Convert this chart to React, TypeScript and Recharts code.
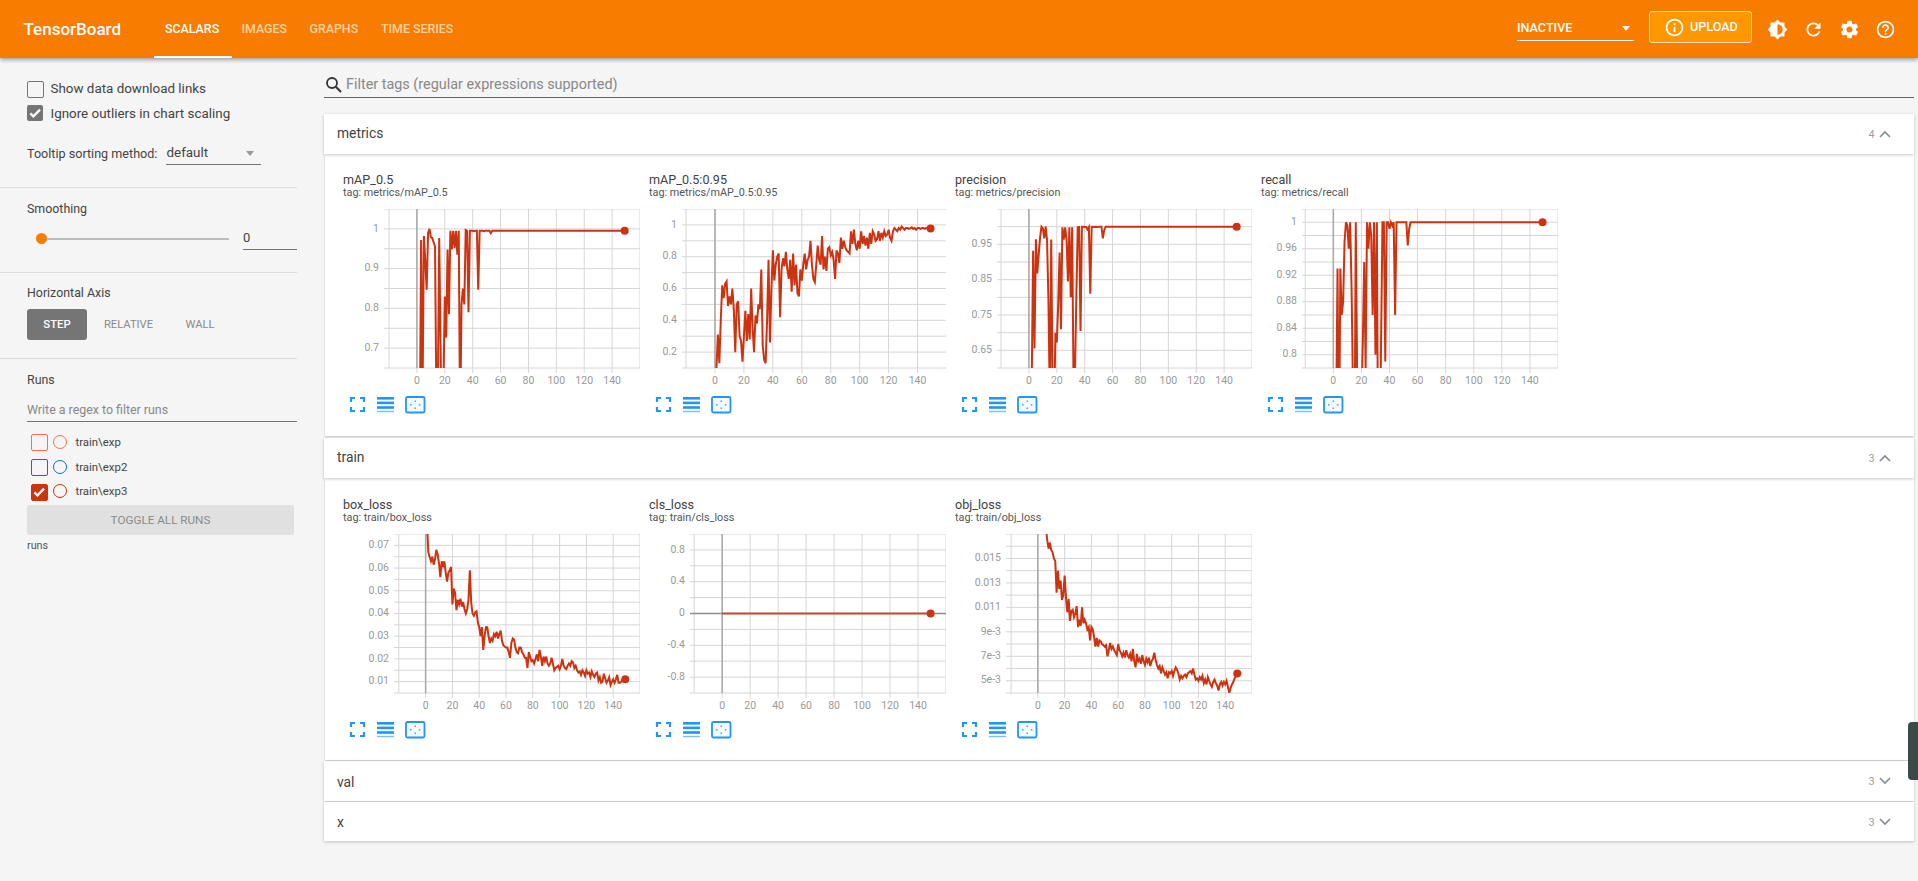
import React from "react";
import { LineChart, Line, XAxis, YAxis, CartesianGrid, ReferenceLine } from "recharts";

// ---------- data (values per step, 0..149, ten per line) ----------
const mAP50 = [
  0.12, 0.3, 0.45, 0.972, 0.55, 0.982, 0.92, 0.847, 0.989, 1.0,
  0.979, 0.977, 0.966, 0.956, 0.55, 0.6, 0.977, 0.7, 0.4, 0.6,
  0.83, 0.727, 0.948, 0.785, 0.995, 0.948, 0.995, 0.952, 0.995, 0.935,
  0.995, 0.5, 0.81, 0.85, 0.81, 0.997, 0.995, 0.79, 0.995, 0.995,
  0.995, 0.994, 0.995, 0.995, 0.847, 0.995, 0.995, 0.995, 0.994, 0.995,
  0.995, 0.995, 0.995, 0.989, 0.995, 0.995, 0.995, 0.995, 0.995, 0.995,
  0.995, 0.995, 0.995, 0.995, 0.995, 0.995, 0.995, 0.995, 0.995, 0.995,
  0.995, 0.995, 0.995, 0.995, 0.995, 0.995, 0.995, 0.995, 0.995, 0.995,
  0.995, 0.995, 0.995, 0.995, 0.995, 0.995, 0.995, 0.995, 0.995, 0.995,
  0.995, 0.995, 0.995, 0.995, 0.995, 0.995, 0.995, 0.995, 0.995, 0.995,
  0.995, 0.995, 0.995, 0.995, 0.995, 0.995, 0.995, 0.995, 0.995, 0.995,
  0.995, 0.995, 0.995, 0.995, 0.995, 0.995, 0.995, 0.995, 0.995, 0.995,
  0.995, 0.995, 0.995, 0.995, 0.995, 0.995, 0.995, 0.995, 0.995, 0.995,
  0.995, 0.995, 0.995, 0.995, 0.995, 0.995, 0.995, 0.995, 0.995, 0.995,
  0.995, 0.995, 0.995, 0.995, 0.995, 0.995, 0.995, 0.995, 0.995, 0.995,
];
const mAP5095 = [
  0.08, 0.1, 0.31, 0.13, 0.4, 0.62, 0.54, 0.63, 0.645, 0.49,
  0.55, 0.5, 0.6, 0.47, 0.2, 0.5, 0.52, 0.3, 0.27, 0.14,
  0.3, 0.46, 0.27, 0.44, 0.28, 0.6, 0.35, 0.2, 0.43, 0.38,
  0.5, 0.47, 0.72, 0.24, 0.15, 0.13, 0.4, 0.78, 0.26, 0.6,
  0.84, 0.65, 0.75, 0.8, 0.82, 0.42, 0.72, 0.79, 0.74, 0.83,
  0.72, 0.66, 0.78, 0.58, 0.82, 0.62, 0.75, 0.57, 0.55, 0.72,
  0.65, 0.75, 0.82, 0.72, 0.78, 0.8, 0.9, 0.75, 0.66, 0.64,
  0.75, 0.87, 0.78, 0.75, 0.93, 0.72, 0.8, 0.71, 0.85, 0.86,
  0.81, 0.83, 0.78, 0.66, 0.84, 0.82, 0.76, 0.92, 0.85, 0.9,
  0.86, 0.84, 0.83, 0.82, 0.96, 0.88, 0.97, 0.88, 0.84, 0.9,
  0.85, 0.96, 0.88, 0.93, 0.87, 0.92, 0.85, 0.95, 0.88, 0.96,
  0.94, 0.9, 0.91, 0.96, 0.9, 0.95, 0.92, 0.96, 0.93, 0.94,
  0.97, 0.92, 0.9, 0.96, 0.98, 0.97, 0.96, 0.98, 0.97, 0.99,
  0.98, 0.97, 0.98, 0.98, 0.975, 0.98, 0.985, 0.975, 0.98, 0.97,
  0.98, 0.98, 0.975, 0.98, 0.98, 0.975, 0.98, 0.98, 0.98, 0.978,
];
const precision = [
  0.3, 0.45, 0.55, 0.932, 0.655, 0.964, 0.868, 0.92, 0.97, 1.0,
  0.995, 0.967, 1.0, 0.962, 0.79, 0.5, 0.964, 0.55, 0.45, 0.7,
  0.672, 0.78, 0.927, 0.71, 0.998, 0.963, 0.998, 0.963, 0.845, 0.998,
  0.8, 0.998, 0.55, 0.58, 0.8, 0.998, 0.999, 0.705, 1.0, 1.0,
  0.999, 0.999, 0.992, 0.999, 0.81, 1.0, 1.0, 0.999, 1.0, 0.999,
  1.0, 1.0, 1.0, 0.967, 0.99, 1.0, 1.0, 1.0, 1.0, 1.0,
  1.0, 1.0, 1.0, 1.0, 1.0, 1.0, 1.0, 1.0, 1.0, 1.0,
  1.0, 1.0, 1.0, 1.0, 1.0, 1.0, 1.0, 1.0, 1.0, 1.0,
  1.0, 1.0, 1.0, 1.0, 1.0, 1.0, 1.0, 1.0, 1.0, 1.0,
  1.0, 1.0, 1.0, 1.0, 1.0, 1.0, 1.0, 1.0, 1.0, 1.0,
  1.0, 1.0, 1.0, 1.0, 1.0, 1.0, 1.0, 1.0, 1.0, 1.0,
  1.0, 1.0, 1.0, 1.0, 1.0, 1.0, 1.0, 1.0, 1.0, 1.0,
  1.0, 1.0, 1.0, 1.0, 1.0, 1.0, 1.0, 1.0, 1.0, 1.0,
  1.0, 1.0, 1.0, 1.0, 1.0, 1.0, 1.0, 1.0, 1.0, 1.0,
  1.0, 1.0, 1.0, 1.0, 1.0, 1.0, 1.0, 1.0, 1.0, 1.0,
];
const recall = [
  0.4, 0.6, 0.7, 0.93, 0.62, 0.93, 0.86, 0.88, 0.97, 1.0,
  0.995, 0.96, 1.0, 0.9, 0.75, 0.6, 1.0, 0.76, 0.6, 0.5,
  0.72, 0.82, 0.94, 0.78, 1.0, 0.96, 1.0, 0.98, 0.86, 1.0,
  0.8, 1.0, 0.6, 0.62, 0.82, 1.0, 1.0, 0.79, 1.0, 1.0,
  0.99, 1.0, 0.995, 1.0, 0.86, 1.0, 1.0, 1.0, 1.0, 1.0,
  1.0, 1.0, 1.0, 0.965, 0.99, 1.0, 1.0, 1.0, 1.0, 1.0,
  1.0, 1.0, 1.0, 1.0, 1.0, 1.0, 1.0, 1.0, 1.0, 1.0,
  1.0, 1.0, 1.0, 1.0, 1.0, 1.0, 1.0, 1.0, 1.0, 1.0,
  1.0, 1.0, 1.0, 1.0, 1.0, 1.0, 1.0, 1.0, 1.0, 1.0,
  1.0, 1.0, 1.0, 1.0, 1.0, 1.0, 1.0, 1.0, 1.0, 1.0,
  1.0, 1.0, 1.0, 1.0, 1.0, 1.0, 1.0, 1.0, 1.0, 1.0,
  1.0, 1.0, 1.0, 1.0, 1.0, 1.0, 1.0, 1.0, 1.0, 1.0,
  1.0, 1.0, 1.0, 1.0, 1.0, 1.0, 1.0, 1.0, 1.0, 1.0,
  1.0, 1.0, 1.0, 1.0, 1.0, 1.0, 1.0, 1.0, 1.0, 1.0,
  1.0, 1.0, 1.0, 1.0, 1.0, 1.0, 1.0, 1.0, 1.0, 1.0,
];
const boxLoss = [
  0.095, 0.08, 0.067, 0.065, 0.063, 0.065, 0.0615, 0.064, 0.068, 0.066,
  0.062, 0.056, 0.063, 0.061, 0.063, 0.058, 0.054, 0.058, 0.059, 0.0605,
  0.044, 0.051, 0.049, 0.0415, 0.046, 0.044, 0.0465, 0.043, 0.045, 0.042,
  0.04, 0.042, 0.046, 0.059, 0.045, 0.04, 0.039, 0.0405, 0.041, 0.036,
  0.034, 0.03, 0.034, 0.024, 0.03, 0.034, 0.034, 0.03, 0.027, 0.029,
  0.028, 0.031, 0.03, 0.032, 0.029, 0.031, 0.0325, 0.028, 0.026, 0.0255,
  0.025, 0.025, 0.023, 0.0205, 0.027, 0.029, 0.0285, 0.025, 0.023, 0.0225,
  0.025, 0.025, 0.023, 0.022, 0.0205, 0.0205, 0.016, 0.023, 0.021, 0.019,
  0.0195, 0.018, 0.02, 0.022, 0.019, 0.024, 0.021, 0.017, 0.021, 0.019,
  0.021, 0.018, 0.017, 0.018, 0.0205, 0.018, 0.015, 0.016, 0.0165, 0.017,
  0.0155, 0.017, 0.02, 0.017, 0.016, 0.0155, 0.017, 0.018, 0.017, 0.019,
  0.0185, 0.016, 0.017, 0.015, 0.014, 0.0145, 0.013, 0.015, 0.014, 0.0125,
  0.015, 0.0135, 0.014, 0.012, 0.0145, 0.013, 0.012, 0.0135, 0.014, 0.0105,
  0.012, 0.0095, 0.01, 0.0135, 0.0115, 0.0095, 0.0105, 0.012, 0.0085, 0.01,
  0.011, 0.0095, 0.011, 0.013, 0.0095, 0.0095, 0.01, 0.011, 0.011, 0.011,
];
const clsLoss = [
  0, 0, 0, 0, 0, 0, 0, 0, 0, 0, 0, 0, 0, 0, 0, 0, 0, 0, 0, 0,
  0, 0, 0, 0, 0, 0, 0, 0, 0, 0, 0, 0, 0, 0, 0, 0, 0, 0, 0, 0,
  0, 0, 0, 0, 0, 0, 0, 0, 0, 0, 0, 0, 0, 0, 0, 0, 0, 0, 0, 0,
  0, 0, 0, 0, 0, 0, 0, 0, 0, 0, 0, 0, 0, 0, 0, 0, 0, 0, 0, 0,
  0, 0, 0, 0, 0, 0, 0, 0, 0, 0, 0, 0, 0, 0, 0, 0, 0, 0, 0, 0,
  0, 0, 0, 0, 0, 0, 0, 0, 0, 0, 0, 0, 0, 0, 0, 0, 0, 0, 0, 0,
  0, 0, 0, 0, 0, 0, 0, 0, 0, 0, 0, 0, 0, 0, 0, 0, 0, 0, 0, 0,
  0, 0, 0, 0, 0, 0, 0, 0, 0, 0,
];
const objLoss = [
  0.04, 0.03, 0.025, 0.021, 0.019, 0.018, 0.0175, 0.0165, 0.0158, 0.0163,
  0.0157, 0.0155, 0.015, 0.0148, 0.0122, 0.014, 0.0125, 0.0132, 0.0116, 0.012,
  0.0136, 0.0118, 0.0106, 0.0117, 0.0099, 0.0107, 0.0108, 0.0102, 0.0105, 0.0111,
  0.0094, 0.01, 0.0095, 0.011, 0.0097, 0.01, 0.0097, 0.0092, 0.0094, 0.0083,
  0.0094, 0.0092, 0.0086, 0.0078, 0.0085, 0.0078, 0.0083, 0.0082, 0.008, 0.0079,
  0.0078, 0.0079, 0.007, 0.0075, 0.0081, 0.0076, 0.0078, 0.0075, 0.0073, 0.0071,
  0.008, 0.0075, 0.0073, 0.007, 0.0073, 0.0069, 0.0075, 0.0071, 0.0069, 0.0072,
  0.0066, 0.0076, 0.0066, 0.0061, 0.0072, 0.0066, 0.0068, 0.0064, 0.0071, 0.0066,
  0.0063, 0.0068, 0.0065, 0.0069, 0.0062, 0.0066, 0.0068, 0.0073, 0.0067, 0.0063,
  0.006, 0.0062, 0.0056, 0.0061, 0.0058, 0.0055, 0.0057, 0.0052, 0.0057, 0.0056,
  0.0058, 0.0054, 0.0058, 0.0061, 0.0059, 0.0056, 0.0051, 0.0054, 0.0052, 0.0054,
  0.0055, 0.0053, 0.0056, 0.0057, 0.0058, 0.0056, 0.006, 0.0055, 0.0051, 0.0052,
  0.005, 0.0053, 0.0051, 0.0054, 0.0048, 0.0051, 0.0047, 0.0053, 0.005, 0.0047,
  0.0045, 0.0049, 0.0051, 0.0048, 0.0046, 0.0042, 0.0047, 0.0049, 0.0046, 0.0049,
  0.0047, 0.005, 0.0045, 0.004, 0.0044, 0.0047, 0.0049, 0.0052, 0.0054, 0.0056,
];

const xTicks = [0, 20, 40, 60, 80, 100, 120, 140];
const xGrid = [-20, 0, 20, 40, 60, 80, 100, 120, 140, 160];

const ticks1 = [0.7, 0.8, 0.9, 1];
const grid1 = [0.65, 0.7, 0.75, 0.8, 0.85, 0.9, 0.95, 1, 1.05];
const ticks2 = [0.2, 0.4, 0.6, 0.8, 1];
const grid2 = [0.1, 0.2, 0.3, 0.4, 0.5, 0.6, 0.7, 0.8, 0.9, 1, 1.1];
const ticks3 = [0.65, 0.75, 0.85, 0.95];
const grid3 = [0.6, 0.65, 0.7, 0.75, 0.8, 0.85, 0.9, 0.95, 1, 1.05];
const ticks4 = [0.8, 0.84, 0.88, 0.92, 0.96, 1];
const grid4 = [0.78, 0.8, 0.82, 0.84, 0.86, 0.88, 0.9, 0.92, 0.94, 0.96, 0.98, 1, 1.02];
const ticksBox = [0.01, 0.02, 0.03, 0.04, 0.05, 0.06, 0.07];
const gridBox = [0.005, 0.01, 0.015, 0.02, 0.025, 0.03, 0.035, 0.04, 0.045, 0.05, 0.055, 0.06, 0.065, 0.07, 0.075];
const ticksCls = [-0.8, -0.4, 0, 0.4, 0.8];
const gridCls = [-1, -0.8, -0.6, -0.4, -0.2, 0, 0.2, 0.4, 0.6, 0.8, 1];
const ticksObj = [0.005, 0.007, 0.009, 0.011, 0.013, 0.015];
const gridObj = [0.004, 0.005, 0.006, 0.007, 0.008, 0.009, 0.01, 0.011, 0.012, 0.013, 0.014, 0.015, 0.016, 0.017];

const fmtObj = (v: number) => (v < 0.01 ? `${Math.round(v * 1000)}e-3` : String(v));

const RED = "#cc3311";
const FONT = "Roboto, sans-serif";

type Def = {
  title: string; tag: string; values: number[]; ticks: number[]; grid: number[];
  yDomain: [number, number]; xMin: number; left: number; right: number; top: number; tx: number; fmt?: (v: number) => string;
};

const ROW1 = 209;
const ROW2 = 534;
const PH = 159;

const defs: Def[] = [
  { title: "mAP_0.5", tag: "tag: metrics/mAP_0.5", values: mAP50, ticks: ticks1, grid: grid1, yDomain: [0.65, 1.05], xMin: -23.6, left: 384, right: 640, top: ROW1, tx: 343 },
  { title: "mAP_0.5:0.95", tag: "tag: metrics/mAP_0.5:0.95", values: mAP5095, ticks: ticks2, grid: grid2, yDomain: [0.1, 1.1], xMin: -22.8, left: 681.5, right: 946, top: ROW1, tx: 649 },
  { title: "precision", tag: "tag: metrics/precision", values: precision, ticks: ticks3, grid: grid3, yDomain: [0.6, 1.05], xMin: -22.9, left: 997, right: 1252, top: ROW1, tx: 955 },
  { title: "recall", tag: "tag: metrics/recall", values: recall, ticks: ticks4, grid: grid4, yDomain: [0.78, 1.02], xMin: -22.3, left: 1302, right: 1558, top: ROW1, tx: 1261 },
  { title: "box_loss", tag: "tag: train/box_loss", values: boxLoss, ticks: ticksBox, grid: gridBox, yDomain: [0.005, 0.075], xMin: -23.6, left: 394, right: 640, top: ROW2, tx: 343 },
  { title: "cls_loss", tag: "tag: train/cls_loss", values: clsLoss, ticks: ticksCls, grid: gridCls, yDomain: [-1, 1], xMin: -23, left: 690, right: 946, top: ROW2, tx: 649 },
  { title: "obj_loss", tag: "tag: train/obj_loss", values: objLoss, ticks: ticksObj, grid: gridObj, yDomain: [0.004, 0.017], xMin: -23.8, left: 1006, right: 1252, top: ROW2, tx: 955, fmt: fmtObj },
];

const Txt = ({ x, y, size = 13, color = "#424242", weight = 400, anchor = "left", children }: any) => (
  <div
    style={{
      position: "absolute", left: x, top: y - 12, height: 24, lineHeight: "24px", fontSize: size,
      color, fontWeight: weight, whiteSpace: "nowrap", fontFamily: FONT,
      transform: anchor === "center" ? "translateX(-50%)" : undefined,
    }}
  >
    {children}
  </div>
);

const Box = ({ x, y, w, h, style }: any) => (
  <div style={{ position: "absolute", left: x, top: y, width: w, height: h, ...style }} />
);

const MIcon = ({ cx, cy, size = 20, d, fill = "#fff" }: any) => (
  <svg style={{ position: "absolute", left: cx - size / 2, top: cy - size / 2 }} width={size} height={size} viewBox="0 0 24 24">
    <path d={d} fill={fill} />
  </svg>
);

const Check = ({ x, y, size }: any) => (
  <svg style={{ position: "absolute", left: x, top: y }} width={size} height={size} viewBox="0 0 24 24">
    <path d="M5 12.5l4.6 4.6L19.5 7" fill="none" stroke="#fff" strokeWidth="3.4" />
  </svg>
);

const ChartIcons = ({ tx, y }: any) => {
  const blue = "#2196f3";
  return (
    <svg style={{ position: "absolute", left: tx + 6, top: y - 1 }} width={80} height={18} viewBox="0 0 80 18">
      <path d="M2 6V2h4M11 2h4v4M15 11v4h-4M6 15H2v-4" fill="none" stroke={blue} strokeWidth="2.2" />
      <rect x="28" y="1" width="17" height="2.6" fill={blue} />
      <rect x="28" y="5.6" width="17" height="2.6" fill={blue} />
      <rect x="28" y="10.2" width="17" height="2.6" fill={blue} />
      <rect x="28" y="14.8" width="17" height="1.4" fill={blue} opacity="0.6" />
      <rect x="57" y="1" width="18.5" height="15.5" rx="1.5" fill="#f4faff" stroke={blue} strokeWidth="1.8" />
      <path d="M66.2 4.5v1.6M66.2 11.4v1.6M61 8.8h1.6M69.8 8.8h1.6" stroke={blue} strokeWidth="1.2" />
    </svg>
  );
};

const Scalar = ({ def }: { def: Def }) => {
  const yAxisW = 50;
  const w = def.right - def.left + yAxisW;
  const data = def.values.map((value, step) => ({ step, value }));
  const last = data.length - 1;
  const isCls = def.title === "cls_loss";
  return (
    <>
      <Txt x={def.tx} y={def.top - 29.5} size={12.6} color="#424242">{def.title}</Txt>
      <Txt x={def.tx} y={def.top - 16} size={10.8} color="#555">{def.tag}</Txt>
      <div style={{ position: "absolute", left: def.left - yAxisW, top: def.top }}>
        <LineChart width={w} height={PH + 24} data={data} margin={{ top: 0, right: 0, bottom: 0, left: 0 }}>
          <CartesianGrid stroke="#d6d6d6" strokeWidth={1} horizontalValues={def.grid} verticalValues={xGrid} />
          <XAxis
            type="number" dataKey="step" domain={[def.xMin, 160]} ticks={xTicks} allowDataOverflow interval={0}
            height={24} axisLine={false} tickLine={{ stroke: "#d6d6d6" }} tickSize={5} tickMargin={4}
            tick={{ fontSize: 10.5, fill: "#999", fontFamily: FONT }}
          />
          <YAxis
            type="number" domain={def.yDomain} ticks={def.ticks} allowDataOverflow interval={0} width={yAxisW}
            axisLine={false} tickLine={false} tickMargin={5} tickSize={0}
            tickFormatter={(v: number) => (def.fmt ? def.fmt(v) : String(v))}
            tick={{ fontSize: 10.5, fill: "#999", fontFamily: FONT, dy: -1 }}
          />
          <ReferenceLine x={0} stroke="#a8a8a8" strokeWidth={1.5} />
          {isCls ? <ReferenceLine y={0} stroke="#8e8e8e" strokeWidth={1.5} /> : null}
          <Line
            type="linear" dataKey="value" stroke={RED} strokeWidth={2} isAnimationActive={false} activeDot={false}
            strokeOpacity={isCls ? 0.75 : 1}
            dot={(p: any) =>
              p.index === last ? <circle key={p.index} cx={p.cx} cy={p.cy} r={4} fill={RED} /> : <g key={p.index} />
            }
          />
        </LineChart>
      </div>
      <ChartIcons tx={def.tx} y={def.top === ROW1 ? 397 : 722} />
    </>
  );
};

const SectionHeader = ({ y, h, label, count, open, labelDy = 0 }: any) => (
  <>
    <Box x={324} y={y} w={1590} h={h} style={{ background: "#fff", boxShadow: "0 1px 3px rgba(0,0,0,.22)" }} />
    <Txt x={337} y={y + h / 2 + labelDy} size={13.8} color="#424242">{label}</Txt>
    <Txt x={1868.5} y={y + h / 2 + 1} size={10.8} color="#9e9e9e">{count}</Txt>
    <svg style={{ position: "absolute", left: 1878, top: y + h / 2 - 6 }} width={14} height={12} viewBox="0 0 14 12">
      <path d={open ? "M2 9l5-5 5 5" : "M2 3l5 5 5-5"} fill="none" stroke="#8a8a8a" strokeWidth="1.6" />
    </svg>
  </>
);

const Caret = ({ x, y, color }: any) => (
  <div style={{ position: "absolute", left: x, top: y, width: 0, height: 0, borderLeft: "4.5px solid transparent", borderRight: "4.5px solid transparent", borderTop: `5px solid ${color}` }} />
);

const runs = [
  { label: "train\\exp", color: "#ff7043", y: 441.5, on: false },
  { label: "train\\exp2", color: "#0077bb", y: 466.5, on: false },
  { label: "train\\exp3", color: "#cc3311", y: 491, on: true },
];

const navTabs = [
  { label: "SCALARS", x: 165, color: "#fff" },
  { label: "IMAGES", x: 241.5, color: "#ffd3a3" },
  { label: "GRAPHS", x: 309.5, color: "#ffd3a3" },
  { label: "TIME SERIES", x: 381, color: "#ffd3a3" },
];

const dBright = "M20 15.31L23.31 12 20 8.69V4h-4.69L12 .69 8.69 4H4v4.69L.69 12 4 15.31V20h4.69L12 23.31 15.31 20H20v-4.69zM12 18V6c3.31 0 6 2.69 6 6s-2.69 6-6 6z";
const dRefresh = "M17.65 6.35C16.2 4.9 14.21 4 12 4c-4.42 0-7.99 3.58-7.99 8s3.57 8 7.99 8c3.73 0 6.84-2.55 7.73-6h-2.08c-.82 2.33-3.04 4-5.65 4-3.31 0-6-2.69-6-6s2.69-6 6-6c1.66 0 3.14.69 4.22 1.78L13 11h7V4l-2.35 2.35z";
const dGear = "M19.43 12.98c.04-.32.07-.64.07-.98s-.03-.66-.07-.98l2.11-1.65c.19-.15.24-.42.12-.64l-2-3.46c-.12-.22-.39-.3-.61-.22l-2.49 1c-.52-.4-1.08-.73-1.69-.98l-.38-2.65C14.46 2.18 14.25 2 14 2h-4c-.25 0-.46.18-.49.42l-.38 2.65c-.61.25-1.17.59-1.69.98l-2.49-1c-.23-.09-.49 0-.61.22l-2 3.46c-.13.22-.07.49.12.64l2.11 1.65c-.04.32-.07.65-.07.98s.03.66.07.98l-2.11 1.65c-.19.15-.24.42-.12.64l2 3.46c.12.22.39.3.61.22l2.49-1c.52.4 1.08.73 1.69.98l.38 2.65c.03.24.24.42.49.42h4c.25 0 .46-.18.49-.42l.38-2.65c.61-.25 1.17-.59 1.69-.98l2.49 1c.23.09.49 0 .61-.22l2-3.46c.12-.22.07-.49-.12-.64l-2.11-1.65zM12 15.5c-1.93 0-3.5-1.57-3.5-3.5s1.57-3.5 3.5-3.5 3.5 1.57 3.5 3.5-1.57 3.5-3.5 3.5z";
const dHelp = "M11 18h2v-2h-2v2zm1-16C6.48 2 2 6.48 2 12s4.48 10 10 10 10-4.48 10-10S17.52 2 12 2zm0 18c-4.41 0-8-3.59-8-8s3.59-8 8-8 8 3.59 8 8-3.59 8-8 8zm0-14c-2.21 0-4 1.79-4 4h2c0-1.1.9-2 2-2s2 .9 2 2c0 2-3 1.75-3 5h2c0-2.25 3-2.5 3-5 0-2.21-1.79-4-4-4z";
const dInfo = "M11 17h2v-6h-2v6zm1-15C6.48 2 2 6.48 2 12s4.48 10 10 10 10-4.48 10-10S17.52 2 12 2zm0 18c-4.41 0-8-3.59-8-8s3.59-8 8-8 8 3.59 8 8-3.59 8-8 8zM11 9h2V7h-2v2z";

export default function App() {
  return (
    <div style={{ position: "absolute", left: 0, top: 0, width: 1918, height: 881, overflow: "hidden", background: "#f5f5f5", fontFamily: FONT }}>
      {/* header */}
      <Box x={0} y={0} w={1918} h={58} style={{ background: "#f77c00", boxShadow: "0 2px 4px rgba(0,0,0,.35)" }} />
      <Txt x={23.5} y={29} size={17} color="#fff" weight={500}>TensorBoard</Txt>
      {navTabs.map((t) => (
        <Txt key={t.label} x={t.x} y={28.5} size={12.4} color={t.color} weight={500}>{t.label}</Txt>
      ))}
      <Box x={154} y={56} w={78} h={2} style={{ background: "#fff" }} />
      <Txt x={1517} y={27.5} size={12.6} color="#fff" weight={500}>INACTIVE</Txt>
      <Box x={1517} y={40} w={117} h={1} style={{ background: "#fff" }} />
      <Caret x={1622} y={26} color="#fff" />
      <Box x={1649} y={11} w={103} h={32} style={{ background: "#ff9800", border: "1px solid #ffe0b2", borderRadius: 3, boxSizing: "border-box" }} />
      <MIcon cx={1674} cy={27} size={21} d={dInfo} />
      <Txt x={1690} y={26.5} size={12.6} color="#fff" weight={500}>UPLOAD</Txt>
      <MIcon cx={1777} cy={29} size={21} d={dBright} />
      <MIcon cx={1813} cy={29} size={21} d={dRefresh} />
      <MIcon cx={1849} cy={29} size={21} d={dGear} />
      <MIcon cx={1885} cy={29} size={21} d={dHelp} />

      {/* sidebar */}
      <Box x={27} y={80.5} w={15} h={15} style={{ border: "1px solid #757575", borderRadius: 2, boxSizing: "content-box" }} />
      <Txt x={50.5} y={88.5} size={13.4} color="#444">Show data download links</Txt>
      <Box x={27} y={105} w={16} h={16} style={{ background: "#757575", borderRadius: 2 }} />
      <Check x={27} y={105} size={16} />
      <Txt x={50.5} y={113.5} size={13.4} color="#444">Ignore outliers in chart scaling</Txt>
      <Txt x={27} y={153.5} size={12.6} color="#444">Tooltip sorting method:</Txt>
      <Txt x={166.5} y={152.5} size={13.4} color="#444">default</Txt>
      <Box x={166} y={164} w={95} h={1} style={{ background: "#757575" }} />
      <Caret x={245.5} y={151} color="#999" />
      <Box x={0} y={186.5} w={297} h={1} style={{ background: "#ddd" }} />
      <Txt x={27} y={208.5} size={12.4} color="#444">Smoothing</Txt>
      <Box x={41} y={238} w={188} h={2} style={{ background: "#bdbdbd" }} />
      <div style={{ position: "absolute", left: 36, top: 233, width: 11, height: 11, borderRadius: "50%", background: "#f77c00" }} />
      <Txt x={243} y={237.5} size={13} color="#444">0</Txt>
      <Box x={243} y={249} w={54} h={1} style={{ background: "#757575" }} />
      <Box x={0} y={271.5} w={297} h={1} style={{ background: "#ddd" }} />
      <Txt x={27} y={292.5} size={12.4} color="#444">Horizontal Axis</Txt>
      <Box x={27} y={309} w={60} h={31} style={{ background: "#757575", borderRadius: 3 }} />
      <Txt x={57} y={324.5} size={11.3} color="#fff" weight={500} anchor="center">STEP</Txt>
      <Txt x={128.5} y={324.5} size={11.2} color="#8a8a8a" weight={400} anchor="center">RELATIVE</Txt>
      <Txt x={200} y={324.5} size={11.2} color="#8a8a8a" weight={400} anchor="center">WALL</Txt>
      <Box x={0} y={358} w={297} h={1} style={{ background: "#ddd" }} />
      <Txt x={27} y={379.5} size={12.4} color="#444">Runs</Txt>
      <Txt x={27} y={409.5} size={12.4} color="#888">Write a regex to filter runs</Txt>
      <Box x={27} y={421} w={270} h={1} style={{ background: "#757575" }} />
      {runs.map((r) => (
        <React.Fragment key={r.label}>
          <Box x={31} y={r.y - 7.5} w={15} h={15} style={{ border: `1px solid ${r.color}`, background: r.on ? r.color : "transparent", borderRadius: 2, boxSizing: "content-box" }} />
          {r.on ? <Check x={31} y={r.y - 7.5} size={16} /> : null}
          <div style={{ position: "absolute", left: 53, top: r.y - 7, width: 12, height: 12, borderRadius: "50%", border: `1px solid ${r.color}` }} />
          <Txt x={75.5} y={r.y} size={11.4} color="#444">{r.label}</Txt>
        </React.Fragment>
      ))}
      <Box x={27} y={505} w={267} h={30} style={{ background: "#e0e0e0", borderRadius: 2 }} />
      <Txt x={160.5} y={520} size={11.7} color="#8a8a8a" weight={400} anchor="center">TOGGLE ALL RUNS</Txt>
      <Txt x={27} y={545.5} size={10.8} color="#555">runs</Txt>

      {/* filter */}
      <svg style={{ position: "absolute", left: 325, top: 76 }} width={18} height={18} viewBox="0 0 18 18">
        <circle cx="7" cy="7" r="5" fill="none" stroke="#333" strokeWidth="1.8" />
        <path d="M10.8 10.8L16 16" stroke="#333" strokeWidth="2" />
      </svg>
      <Txt x={346} y={84.5} size={14.4} color="#888">Filter tags (regular expressions supported)</Txt>
      <Box x={324} y={97} w={1590} h={1} style={{ background: "#666" }} />

      {/* cards */}
      <Box x={325} y={154} w={1589} h={282} style={{ background: "#fff", boxShadow: "0 1px 2px rgba(0,0,0,.2)" }} />
      <Box x={325} y={478} w={1589} h={282} style={{ background: "#fff", boxShadow: "0 1px 2px rgba(0,0,0,.2)" }} />
      <SectionHeader y={114} h={40} label="metrics" count="4" open labelDy={-1} />
      <SectionHeader y={438} h={40} label="train" count="3" open labelDy={-1} />
      <SectionHeader y={761} h={40} label="val" count="3" open={false} labelDy={1} />
      <SectionHeader y={802} h={39} label="x" count="3" open={false} />

      {defs.map((d) => (
        <Scalar key={d.title} def={d} />
      ))}

      <Box x={1908} y={722} w={10} h={58} style={{ background: "#3b4a48", borderRadius: "4px 0 0 4px" }} />
    </div>
  );
}
